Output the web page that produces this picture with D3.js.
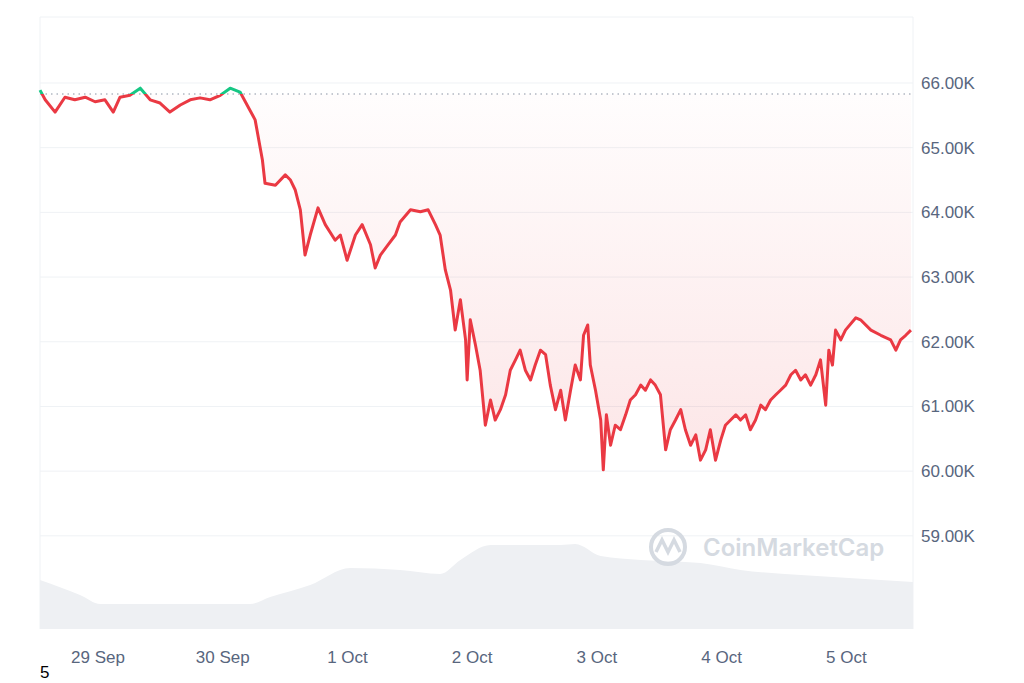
<!DOCTYPE html>
<html><head><meta charset="utf-8">
<script src="https://cdn.jsdelivr.net/npm/d3@7"></script>
<style>body{margin:0;background:#fff}</style></head>
<body><svg id="c" width="1024" height="683"></svg>
<script>
const hours=[0,1.0,2.9,4.8,6.7,8.7,10.6,12.5,14.1,15.4,17.3,19.3,21.2,23.1,25.0,27.0,28.9,30.8,32.7,34.7,36.6,38.5,40.4,41.4,42.8,43.3,45.3,47.2,48.2,49.1,50.1,51.0,52.0,53.5,54.9,56.8,57.8,59.1,60.7,62.0,63.6,64.5,65.5,67.0,68.4,69.3,71.3,73.2,74.7,76.1,77.0,78.0,79.0,79.9,80.9,81.9,82.2,82.8,83.8,84.7,85.7,86.7,87.6,88.6,89.6,90.5,91.5,92.4,93.4,94.4,95.3,96.3,97.3,98.2,99.2,100.2,101.1,102.1,103.0,104.0,104.6,105.4,105.9,106.9,107.9,108.4,109.0,109.8,110.7,111.7,112.7,113.6,114.6,115.6,116.5,117.5,118.4,119.4,120.4,121.3,122.3,123.3,124.2,125.2,126.2,127.1,128.1,129.0,130.0,131.0,131.9,132.9,133.9,134.8,135.8,136.7,137.7,138.7,139.6,140.6,141.6,142.5,143.5,144.5,145.4,146.4,147.3,148.3,149.3,150.2,151.2,151.8,152.5,153.1,154.1,155.0,157.0,157.9,159.9,161.8,163.7,164.7,165.6,166.6,167.6];
const prices=[65.89,65.74,65.55,65.78,65.74,65.78,65.71,65.74,65.55,65.78,65.81,65.92,65.74,65.69,65.55,65.66,65.74,65.77,65.74,65.81,65.92,65.86,65.58,65.43,64.81,64.45,64.42,64.58,64.50,64.35,64.04,63.34,63.65,64.07,63.81,63.57,63.65,63.26,63.65,63.81,63.50,63.14,63.34,63.50,63.65,63.85,64.04,64.01,64.04,63.81,63.65,63.11,62.80,62.18,62.65,62.03,61.41,62.34,61.95,61.56,60.71,61.10,60.79,60.95,61.18,61.56,61.72,61.87,61.56,61.41,61.64,61.87,61.80,61.33,60.95,61.25,60.79,61.25,61.64,61.41,62.10,62.26,61.64,61.25,60.79,60.02,60.87,60.40,60.71,60.64,60.87,61.10,61.18,61.33,61.25,61.41,61.33,61.18,60.33,60.64,60.79,60.95,60.64,60.40,60.56,60.17,60.33,60.64,60.17,60.48,60.71,60.79,60.87,60.79,60.87,60.64,60.79,61.02,60.95,61.10,61.18,61.25,61.33,61.49,61.56,61.41,61.49,61.33,61.49,61.72,61.02,61.87,61.64,62.18,62.03,62.18,62.37,62.34,62.18,62.10,62.03,61.87,62.03,62.10,62.18];
const volHours=[0,7.7,11.6,40.4,44.3,52,59.7,69.3,77,80.9,86.7,100.2,103,107.9,115.6,127.1,134.8,146.4,161.8,168];
const volumes=[49,34,25,25,32,44,61,59,55,69,84,84,85,73,69,66,59,54,49,47];
const yTicks=[59,60,61,62,63,64,65,66];
const xTickLabels=["29 Sep","30 Sep","1 Oct","2 Oct","3 Oct","4 Oct","5 Oct"];
const baseline=65.83;

const svg=d3.select("#c");
const L=40,R=913,T=17,B=629;
const t0=Date.UTC(2024,8,28,12,50);
const toDate=h=>new Date(t0+h*3600e3);
const x=d3.scaleUtc().domain([toDate(0),toDate(168)]).range([L,R]);
const y=d3.scaleLinear().domain([57.56,67.02]).range([B,T]);
const yv=d3.scaleLinear().domain([0,100]).range([B,B-100]);
const font="'Liberation Sans', Arial, sans-serif";

svg.append("path").attr("d",`M${L},${B}V${T}H${R}V${B}`).attr("fill","none").attr("stroke","#eff2f5");
svg.selectAll(".g").data(yTicks).join("line").attr("x1",L).attr("x2",R)
  .attr("y1",d=>y(d)).attr("y2",d=>y(d)).attr("stroke","#eff2f5");

const vdata=volHours.map((h,i)=>[toDate(h),volumes[i]]);
svg.append("path").datum(vdata).attr("fill","#eef0f3")
 .attr("d",d3.area().x(d=>x(d[0])).y0(B).y1(d=>yv(d[1])).curve(d3.curveMonotoneX));

const wm=svg.append("g");
wm.append("circle").attr("cx",668).attr("cy",547).attr("r",17).attr("fill","none").attr("stroke","#d5dae1").attr("stroke-width",4);
wm.append("path").attr("d","M656,552 L662,540 L668,552 L674,540 L680,552").attr("fill","none").attr("stroke","#d5dae1").attr("stroke-width",3.5);
wm.append("text").attr("x",703).attr("y",556).text("CoinMarketCap").attr("font-family","Inter, Roboto, sans-serif").attr("font-size",24).attr("font-weight",600).attr("fill","#d5dae1");

const data=hours.map((h,i)=>[toDate(h),prices[i]]);
const by=y(baseline);
const defs=svg.append("defs");
const gr=defs.append("linearGradient").attr("id","gr").attr("x1",0).attr("x2",0).attr("gradientUnits","userSpaceOnUse")
 .attr("y1",by).attr("y2",y(60));
gr.append("stop").attr("offset",0).attr("stop-color","#ea3943").attr("stop-opacity",0.01);
gr.append("stop").attr("offset",1).attr("stop-color","#ea3943").attr("stop-opacity",0.13);
defs.append("clipPath").attr("id","above").append("rect").attr("x",0).attr("y",0).attr("width",1024).attr("height",by);
defs.append("clipPath").attr("id","below").append("rect").attr("x",0).attr("y",by).attr("width",1024).attr("height",683);
svg.append("path").datum(data).attr("clip-path","url(#below)").attr("fill","url(#gr)")
 .attr("d",d3.area().x(d=>x(d[0])).y0(by).y1(d=>y(d[1])));
svg.append("line").attr("x1",L).attr("x2",R).attr("y1",by).attr("y2",by).attr("stroke","#8a93a3").attr("stroke-dasharray","1.5,4").attr("stroke-width",1.2);
const line=d3.line().x(d=>x(d[0])).y(d=>y(d[1]));
svg.append("path").datum(data).attr("clip-path","url(#below)").attr("fill","none").attr("stroke","#ea3943").attr("stroke-width",3).attr("stroke-linejoin","round").attr("d",line);
svg.append("path").datum(data).attr("clip-path","url(#above)").attr("fill","none").attr("stroke","#16c784").attr("stroke-width",3).attr("stroke-linejoin","round").attr("d",line);

svg.selectAll(".yl").data(yTicks).join("text").attr("x",921).attr("y",d=>y(d)+6)
 .text(d=>d.toFixed(2)+"K").attr("font-family",font).attr("font-size",17).attr("fill","#58667e");
const xt=xTickLabels.map((s,i)=>[new Date(Date.UTC(2024,8,29+i)),s]);
svg.selectAll(".xl").data(xt).join("text").attr("x",d=>x(d[0])).attr("y",663).attr("text-anchor","middle")
 .text(d=>d[1]).attr("font-family",font).attr("font-size",17).attr("fill","#58667e");
svg.append("text").attr("x",40).attr("y",678).text("5").attr("font-family",font).attr("font-size",17).attr("fill","#000");
</script></body></html>
